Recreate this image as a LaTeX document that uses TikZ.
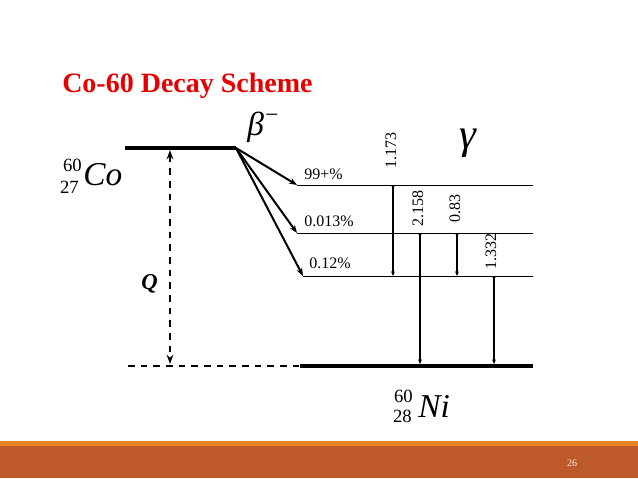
\documentclass[tikz,border=0pt]{standalone}
\usepackage{fontspec}
\setmainfont{Liberation Serif}
\usetikzlibrary{arrows.meta}
\definecolor{titlered}{RGB}{230,0,0}
\definecolor{barlight}{RGB}{229,131,38}
\definecolor{bardark}{RGB}{190,89,44}
\begin{document}
\begin{tikzpicture}[
    x=0.75pt, y=-0.75pt,
    lvline/.style = {line width=0.75pt},
    gline/.style = {line width=3.4pt},
    betaarrow/.style = {line width=1.5pt, -{Stealth[length=6pt, width=4.5pt]}},
    gammaarrow/.style = {line width=0.9pt, {Circle[length=2pt]}-{Stealth[length=3.5pt, width=3pt]}},
    qline/.style = {line width=1.8pt, dash pattern=on 5pt off 4.5pt},
    lab/.style = {inner sep=0pt, font=\fontsize{12}{14}\selectfont},
    elab/.style = {lab, rotate=90},
    iso/.style = {inner sep=0pt, anchor=base west, font=\fontsize{25}{28}\selectfont\itshape},
    nuc/.style = {inner sep=0pt, anchor=base east, font=\fontsize{14}{16}\selectfont}
  ]
\useasboundingbox (0,0) rectangle (638,478);
\fill[barlight] (0,441) rectangle (638,447);
\fill[bardark] (0,446) rectangle (638,478);
\node[inner sep=0pt, text=white!92!bardark, font=\fontsize{7.5}{8}\selectfont] (page) at (572,463) {26};

\node[inner sep=0pt, anchor=base west, text=titlered, font=\fontsize{21}{24}\selectfont\bfseries] (title) at (62,92) {Co-60 Decay Scheme};

\coordinate (coL) at (125,148);
\coordinate (coR) at (236,148);
\coordinate (lvA) at (297,185);
\coordinate (lvA-end) at (533,185);
\coordinate (lvB) at (297,233);
\coordinate (lvB-end) at (533,233);
\coordinate (lvC) at (303,276);
\coordinate (lvC-end) at (533,276);
\coordinate (niL) at (300,366);
\coordinate (niR) at (533,366);
\coordinate (dashL) at (128,366);
\coordinate (qTop) at (170,150);
\coordinate (qBot) at (170,364);

\draw[gline] (coL) -- (coR);
\draw[gline] (niL) -- (niR);
\draw[qline] (dashL) -- (niL);
\draw[qline, {Stealth[length=7pt, width=5pt]}-{Stealth[length=7pt, width=5pt]}] (qTop) -- (qBot);

\foreach \n in {lvA,lvB,lvC} {
  \draw[lvline] (\n) -- (\n-end);
  \draw[betaarrow] (coR) -- (\n);
}

\coordinate (g1a) at (393,185);
\coordinate (g1b) at (393,276);
\coordinate (g2a) at (420,233);
\coordinate (g2b) at (420,364);
\coordinate (g3a) at (457,233);
\coordinate (g3b) at (457,276);
\coordinate (g4a) at (494,276);
\coordinate (g4b) at (494,364);
\foreach \g in {g1,g2,g3,g4}
  \draw[gammaarrow] (\g a) -- (\g b);

\node[lab, anchor=base west] (pA) at (304,179) {99+\%};
\node[lab, anchor=base west] (pB) at (304,226) {0.013\%};
\node[lab, anchor=base west] (pC) at (309,268) {0.12\%};

\node[elab] (e1) at (391,150) {1.173};
\node[elab] (e2) at (418,208) {2.158};
\node[elab] (e3) at (455,208) {0.83};
\node[elab] (e4) at (491,251) {1.332};

\node[iso] (co) at (83,185) {Co};
\node[nuc] (coA) at (82,171) {60};
\node[nuc] (coZ) at (79,193) {27};

\node[iso] (ni) at (418,417) {Ni};
\node[nuc] (niA) at (413,402) {60};
\node[nuc] (niZ) at (412,422) {28};

\node[inner sep=0pt, anchor=base west, font=\fontsize{25}{28}\selectfont\itshape] (beta) at (247,135) {β\textsuperscript{−}};
\node[inner sep=0pt, anchor=base west, font=\fontsize{32}{36}\selectfont\itshape] (gamma) at (459,148) {γ};
\node[inner sep=0pt, anchor=base west, font=\fontsize{17}{20}\selectfont\bfseries\itshape] (q) at (141,289) {Q};
\end{tikzpicture}
\end{document}
